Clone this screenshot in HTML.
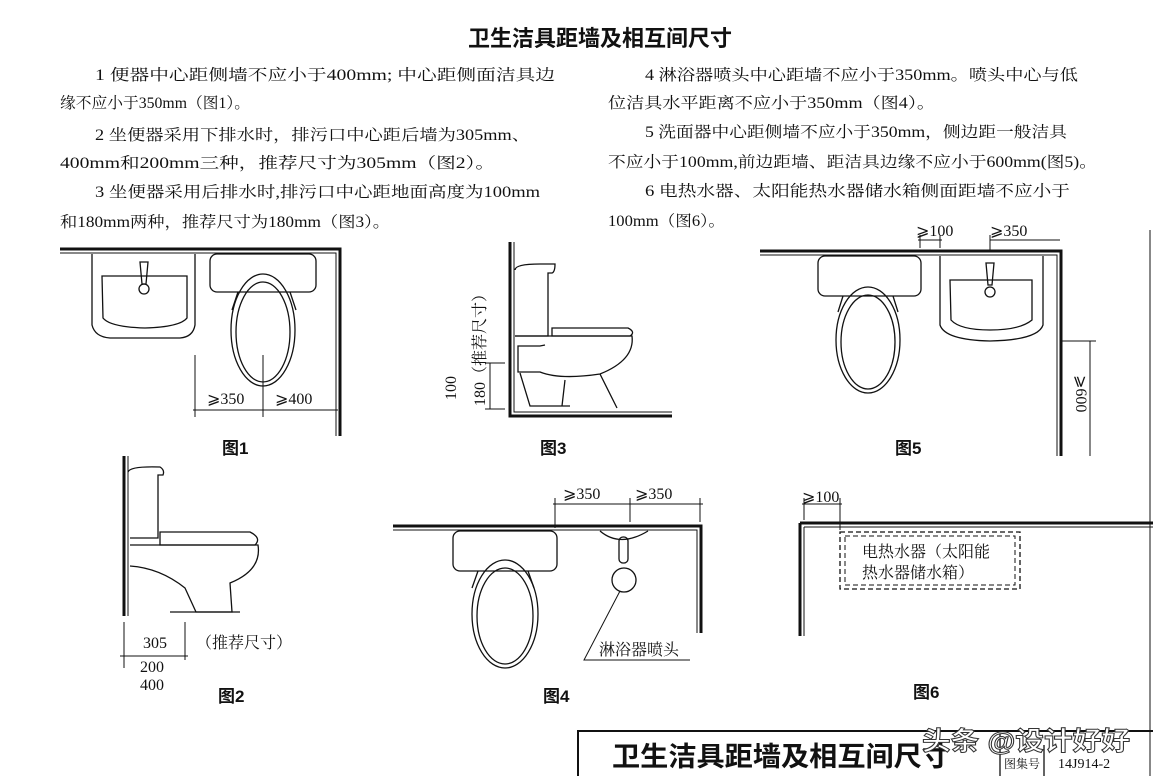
<!DOCTYPE html>
<html><head><meta charset="utf-8"><style>
html,body{margin:0;padding:0;background:#fff}
svg{display:block}
text{font-family:"Liberation Serif","Noto Serif CJK SC","Noto Sans CJK SC",serif;fill:#111}
.h{font-family:"Liberation Sans","Noto Sans CJK SC",sans-serif;font-weight:bold}
</style></head><body>
<svg width="1153" height="776" viewBox="0 0 1153 776" xmlns="http://www.w3.org/2000/svg">
<g stroke="#111" fill="none" stroke-width="1.4">
<line x1="1150" y1="230" x2="1150" y2="776" stroke-width="1"/>
</g>
<text x="600" y="46" text-anchor="middle" class="h" font-size="22">卫生洁具距墙及相互间尺寸</text>
<g font-size="15.5">
<text x="95" y="80" textLength="460" lengthAdjust="spacingAndGlyphs">1 便器中心距侧墙不应小于400mm; 中心距侧面洁具边</text>
<text x="60" y="108" textLength="190" lengthAdjust="spacingAndGlyphs">缘不应小于350mm（图1）。</text>
<text x="95" y="140" textLength="435" lengthAdjust="spacingAndGlyphs">2 坐便器采用下排水时，排污口中心距后墙为305mm、</text>
<text x="60" y="168" textLength="435" lengthAdjust="spacingAndGlyphs">400mm和200mm三种，推荐尺寸为305mm（图2）。</text>
<text x="95" y="197" textLength="445" lengthAdjust="spacingAndGlyphs">3 坐便器采用后排水时,排污口中心距地面高度为100mm</text>
<text x="60" y="227" textLength="330" lengthAdjust="spacingAndGlyphs">和180mm两种，推荐尺寸为180mm（图3）。</text>
<text x="645" y="80" textLength="433" lengthAdjust="spacingAndGlyphs">4 淋浴器喷头中心距墙不应小于350mm。喷头中心与低</text>
<text x="608" y="108" textLength="327" lengthAdjust="spacingAndGlyphs">位洁具水平距离不应小于350mm（图4）。</text>
<text x="645" y="137" textLength="422" lengthAdjust="spacingAndGlyphs">5 洗面器中心距侧墙不应小于350mm，侧边距一般洁具</text>
<text x="608" y="167" textLength="489" lengthAdjust="spacingAndGlyphs">不应小于100mm,前边距墙、距洁具边缘不应小于600mm(图5)。</text>
<text x="645" y="196" textLength="425" lengthAdjust="spacingAndGlyphs">6 电热水器、太阳能热水器储水箱侧面距墙不应小于</text>
<text x="608" y="226" textLength="117" lengthAdjust="spacingAndGlyphs">100mm（图6）。</text>
</g>

<g stroke="#111" fill="none" stroke-width="1.3">
<path d="M60 249 H340 V436" stroke-width="3"/>
<path d="M60 253 H336 V436" stroke-width="1"/>
<path d="M92 254 V325 Q95 337 110 338 H180 Q193 337 195 325 V254"/>
<path d="M102 276 H187 V318 Q180 327 145 328 Q110 327 103 318 Z"/>
<path d="M140 262 h8 l-2 22 h-4 Z"/><circle cx="144" cy="289" r="5"/>
<rect x="210" y="254" width="106" height="38" rx="7"/>
<path d="M238 292 L232 310 M290 292 L296 310"/>
<ellipse cx="263" cy="330" rx="32" ry="56"/>
<ellipse cx="263" cy="332" rx="27" ry="50"/>
<line x1="263" y1="355" x2="263" y2="417" stroke-width="1"/>
<line x1="195" y1="355" x2="195" y2="417" stroke-width="1"/>
<line x1="193" y1="410" x2="338" y2="410" stroke-width="1"/>
<path d="M510 242 V416 H672" stroke-width="3"/>
<path d="M514 242 V412 H672" stroke-width="1"/>
<path d="M515 270 Q515 264 540 264 H555 Q555 272 552 273 H548 V336 H515"/>
<path d="M552 328 H628 Q636 332 630 336 H552 Z"/>
<path d="M515 336 H632 Q635 360 600 374 Q560 380 540 372 L518 372 V346 H540 L545 345"/>
<path d="M520 373 L530 406 H562 L565 380 M600 374 L617 408 M530 406 H570"/>
<line x1="485" y1="363" x2="505" y2="363" stroke-width="1"/>
<line x1="485" y1="409" x2="505" y2="409" stroke-width="1"/>
<line x1="490" y1="363" x2="490" y2="409" stroke-width="1"/>
<path d="M760 251 H1061 V456" stroke-width="3"/>
<path d="M760 255 H1057 V456" stroke-width="1"/>
<rect x="818" y="256" width="103" height="40" rx="7"/>
<path d="M843 296 L838 312 M893 296 L898 312"/>
<ellipse cx="868" cy="340" rx="32" ry="53"/>
<ellipse cx="868" cy="342" rx="27" ry="47"/>
<path d="M940 256 V325 Q945 340 990 341 Q1038 340 1043 325 V256"/>
<path d="M950 280 H1032 V320 Q1020 330 990 330 Q960 330 951 320 Z"/>
<path d="M986 263 h8 l-2 22 h-4 Z"/><circle cx="990" cy="292" r="5"/>
<line x1="920" y1="235" x2="920" y2="248" stroke-width="1"/>
<line x1="940" y1="235" x2="940" y2="248" stroke-width="1"/>
<line x1="918" y1="240" x2="942" y2="240" stroke-width="1"/>
<line x1="990" y1="235" x2="990" y2="250" stroke-width="1"/>
<line x1="990" y1="240" x2="1060" y2="240" stroke-width="1"/>
<line x1="1062" y1="341" x2="1096" y2="341" stroke-width="1"/>
<line x1="1090" y1="341" x2="1090" y2="456" stroke-width="1"/>
<path d="M124 456 V616" stroke-width="3"/>
<path d="M128 456 V616" stroke-width="1"/>
<path d="M128 472 Q130 466 160 467 Q165 470 163 475 H158 V538 H130"/>
<path d="M160 532 H250 Q262 538 255 545 H160 Z"/>
<path d="M130 545 H258 Q262 570 230 583 L232 612 H196 L185 588 Q160 568 130 566"/>
<path d="M170 612 H240"/>
<line x1="124" y1="622" x2="124" y2="668" stroke-width="1"/>
<line x1="185" y1="622" x2="185" y2="660" stroke-width="1"/>
<line x1="120" y1="656" x2="188" y2="656" stroke-width="1"/>
<path d="M393 526 H701 V633" stroke-width="3"/>
<path d="M393 530 H697 V633" stroke-width="1"/>
<rect x="453" y="531" width="104" height="40" rx="7"/>
<path d="M478 571 L472 588 M528 571 L534 588"/>
<ellipse cx="505" cy="614" rx="33" ry="54"/>
<ellipse cx="505" cy="616" rx="28" ry="48"/>
<path d="M600 531 Q620 548 648 531"/>
<rect x="619" y="537" width="9" height="26" rx="4"/>
<circle cx="624" cy="580" r="12"/>
<path d="M620 591 L584 660 H690" stroke-width="1"/>
<line x1="555" y1="498" x2="555" y2="528" stroke-width="1"/>
<line x1="630" y1="498" x2="630" y2="522" stroke-width="1"/>
<line x1="700" y1="498" x2="700" y2="522" stroke-width="1"/>
<line x1="553" y1="504" x2="703" y2="504" stroke-width="1"/>
<path d="M800 523 H1153" stroke-width="3"/>
<path d="M804 527 H1153" stroke-width="1"/>
<path d="M800 523 V636" stroke-width="3"/>
<path d="M804 527 V636" stroke-width="1"/>
<rect x="840" y="532" width="180" height="57" stroke-dasharray="5,3"/>
<rect x="845" y="536" width="170" height="49" stroke-dasharray="5,3" stroke-width="1"/>
<line x1="804" y1="498" x2="804" y2="520" stroke-width="1"/>
<line x1="840" y1="498" x2="840" y2="530" stroke-width="1"/>
<line x1="802" y1="504" x2="842" y2="504" stroke-width="1"/>
<path d="M578 776 V731 H1153" stroke-width="2"/>
<line x1="1000" y1="731" x2="1000" y2="776"/>
<line x1="1044" y1="745" x2="1044" y2="776"/>
</g>

<g font-size="16">
<text x="207" y="404">⩾350</text><text x="275" y="404">⩾400</text>
<text x="916" y="236">⩾100</text><text x="990" y="236">⩾350</text>
<text x="563" y="499">⩾350</text><text x="635" y="499">⩾350</text>
<text x="802" y="502">⩾100</text>
<text x="143" y="648">305</text><text x="196" y="648">（推荐尺寸）</text>
<text x="140" y="672">200</text><text x="140" y="690">400</text>
<text x="599" y="655">淋浴器喷头</text>
<text x="862" y="557">电热水器（太阳能</text>
<text x="862" y="578">热水器储水箱）</text>
<text transform="translate(485,406) rotate(-90)">180（推荐尺寸）</text>
<text transform="translate(456,400) rotate(-90)">100</text>
<text transform="translate(1076,375) rotate(90)">⩾600</text>
</g>
<g font-size="17" class="h">
<text x="222" y="454" class="h">图1</text>
<text x="540" y="454" class="h">图3</text>
<text x="895" y="454" class="h">图5</text>
<text x="218" y="702" class="h">图2</text>
<text x="543" y="702" class="h">图4</text>
<text x="913" y="698" class="h">图6</text>
</g>
<text x="612" y="766" class="h" font-size="27" textLength="338" lengthAdjust="spacingAndGlyphs">卫生洁具距墙及相互间尺寸</text>
<text x="1004" y="768" font-size="12">图集号</text>
<text x="1058" y="768" font-size="14">14J914-2</text>
<text x="922" y="750" font-size="26" style="fill:#fff;stroke:#333;stroke-width:1" class="h" textLength="208" lengthAdjust="spacingAndGlyphs">头条 @设计好好</text>
</svg>
</body></html>
